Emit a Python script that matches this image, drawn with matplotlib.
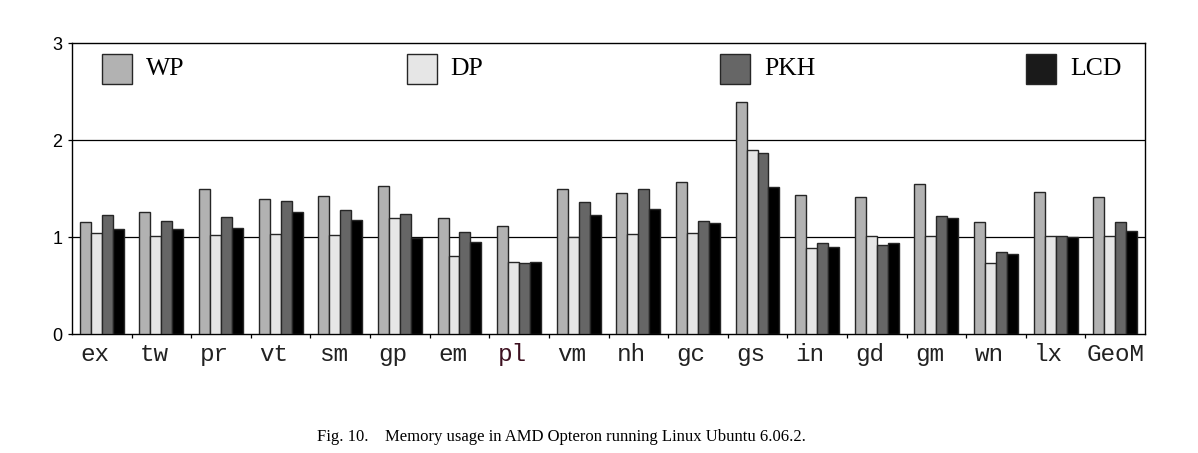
import matplotlib
matplotlib.use("Agg")
import matplotlib.pyplot as plt
import matplotlib.transforms as mtransforms
from matplotlib.patches import Rectangle
import numpy as np

categories = ["ex", "tw", "pr", "vt", "sm", "gp", "em", "pl", "vm", "nh",
              "gc", "gs", "in", "gd", "gm", "wn", "lx", "GeoM"]
series_names = ["WP", "DP", "PKH", "LCD"]
wp  = [1.16, 1.26, 1.50, 1.39, 1.43, 1.53, 1.20, 1.12, 1.50, 1.46,
       1.57, 2.40, 1.44, 1.42, 1.55, 1.16, 1.47, 1.42]
dp  = [1.04, 1.01, 1.02, 1.03, 1.02, 1.20, 0.81, 0.75, 1.00, 1.03,
       1.04, 1.90, 0.89, 1.01, 1.01, 0.74, 1.01, 1.01]
pkh = [1.23, 1.17, 1.21, 1.37, 1.28, 1.24, 1.05, 0.74, 1.36, 1.50,
       1.17, 1.87, 0.94, 0.92, 1.22, 0.85, 1.01, 1.16]
lcd = [1.09, 1.09, 1.10, 1.26, 1.18, 0.99, 0.95, 0.75, 1.23, 1.29,
       1.15, 1.52, 0.90, 0.94, 1.20, 0.83, 1.00, 1.07]
yticks = [0, 1, 2, 3]

fills = ["#b2b2b2", "#e6e6e6", "#666666", "#000000"]
legend_fills = ["#b2b2b2", "#e6e6e6", "#666666", "#1a1a1a"]

fig = plt.figure(figsize=(11.98, 4.53), dpi=100)
ax = fig.add_axes([72/1198, 1 - 334.3/453, (1145-72)/1198, (334.3-43.3)/453])

x = np.arange(len(categories))
bw = 0.184
for k, vals in enumerate([wp, dp, pkh, lcd]):
    ax.bar(x + (k - 1.5) * bw, vals, width=bw, color=fills[k],
           edgecolor="#262626", linewidth=1.0, zorder=3)

ax.set_xlim(-0.5, len(categories) - 0.5)
ax.set_ylim(0, 3)
ax.set_yticks(yticks)
ax.set_yticklabels([str(t) for t in yticks], fontfamily="Liberation Sans", fontsize=13)
for yv in [1, 2]:
    ax.axhline(yv, color="black", linewidth=0.9, zorder=1)

ax.set_xticks(x)
ax.set_xticklabels(categories, fontfamily="Liberation Mono", fontsize=17.5, color="#222222")
ax.set_xticks(np.arange(len(categories) - 1) + 0.5, minor=True)
ax.tick_params(axis="x", which="major", length=0, pad=6)
ax.tick_params(axis="x", which="minor", length=3, width=0.9, direction="out")
ax.tick_params(axis="y", which="major", length=3, width=0.9, direction="out", pad=4)
for i, lab in enumerate(ax.get_xticklabels()):
    if categories[i] != "GeoM":
        lab.set_transform(lab.get_transform() +
                          mtransforms.ScaledTranslation(-7/100, 0, fig.dpi_scale_trans))
    if categories[i] == "pl":
        lab.set_color("#3d1020")

for s in ax.spines.values():
    s.set_linewidth(1.0)
    s.set_color("black")

# legend (manual, spread across the top)
leg_x = [0.028, 0.312, 0.604, 0.889]
for k, name in enumerate(series_names):
    ax.add_patch(Rectangle((leg_x[k], 0.860), 0.028, 0.103, transform=ax.transAxes,
                           facecolor=legend_fills[k], edgecolor="#262626",
                           linewidth=1.0, zorder=4, clip_on=False))
    ax.text(leg_x[k] + 0.041, 0.912, name, transform=ax.transAxes,
            fontfamily="Liberation Serif", fontsize=18.5, va="center", ha="left", zorder=5)

fig.text(317/1198, 1 - 437/453, "Fig. 10.", fontfamily="Liberation Serif",
         fontsize=12, ha="left", va="center")
fig.text(385/1198, 1 - 437/453, "Memory usage in AMD Opteron running Linux Ubuntu 6.06.2.",
         fontfamily="Liberation Serif", fontsize=12, ha="left", va="center")

fig.savefig("out.png", dpi=100)
